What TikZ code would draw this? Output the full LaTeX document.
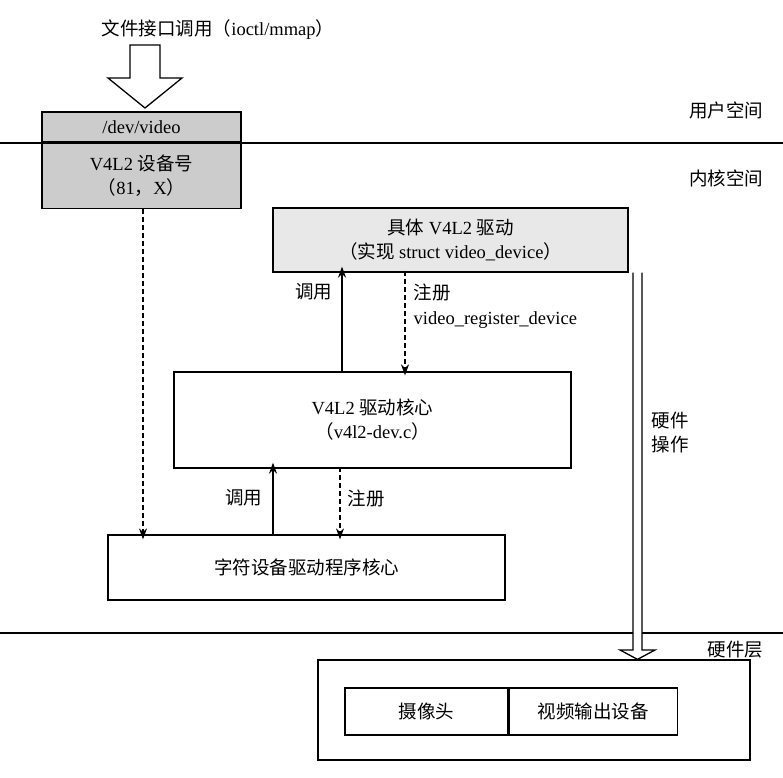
\documentclass[tikz,border=0pt]{standalone}
\usepackage{fontspec}
\setmainfont{Liberation Serif}
\newfontfamily\cjk{Noto Sans CJK SC}
\newcommand{\zh}[1]{{\cjk #1}}
\usetikzlibrary{positioning,arrows.meta}
\tikzset{
  box/.style={draw, line width=1.3pt, align=center, inner sep=0pt},
  call/.style={-{Stealth[length=11pt,width=8pt]}, line width=1.3pt},
  reg/.style={-{Stealth[length=11pt,width=8pt]}, line width=1.3pt, dash pattern=on 5pt off 3pt},
  lbl/.style={align=left, anchor=west, inner sep=1pt},
}
\begin{document}
\begin{tikzpicture}[x=1pt,y=-1pt,font=\fontsize{18.5}{22}\selectfont,line width=1.3pt]
  \useasboundingbox (0,0) rectangle (783,777);

  % layers
  \draw (0,143) -- (783,143);
  \draw (0,633) -- (783,633);
  \node[anchor=east] (user) at (767,110) {\zh{用户空间}};
  \node[anchor=east] (kernel) at (767,178) {\zh{内核空间}};
  \node[anchor=east] (hw) at (767,650) {\zh{硬件层}};

  % file interface
  \node (ifc) at (218,30) {\zh{文件接口调用（}ioctl/mmap\zh{）}};
  \draw[fill=white] (130,45) -- (160,45) -- (160,78) -- (182,78) -- (145,108)
    -- (108,78) -- (130,78) -- cycle;

  % device node
  \node[box, fill=gray!40, minimum width=199, minimum height=30] (dev) at (141.5,127) {/dev/video};
  \node[box, fill=gray!40, minimum width=199, minimum height=65, below=0pt of dev] (devno)
    {V4L2 \zh{设备号}\\[2pt]\zh{（}81\zh{，}X\zh{）}};

  % boxes
  \node[box, fill=gray!18, minimum width=355, minimum height=64] (drv) at (450.5,240)
    {\zh{具体} V4L2 \zh{驱动}\\[2pt]\zh{（实现} struct video\_device\zh{）}};
  \node[box, minimum width=397, minimum height=96] (core) at (372.5,420)
    {V4L2 \zh{驱动核心}\\[2pt]\zh{（}v4l2-dev.c\zh{）}};
  \node[box, minimum width=397, minimum height=65] (chr) at (306.5,567.5)
    {\zh{字符设备驱动程序核心}};

  % calls and registrations
  \draw[call] (core.north -| 342,0) -- ([yshift=6]drv.south -| 342,0);
  \node[anchor=east] (c1) at (336,292) {\zh{调用}};
  \draw[reg] ([yshift=2]drv.south -| 405,0) -- ([yshift=-4]core.north -| 405,0);
  \node[lbl] (r1) at (412,292) {\zh{注册}};
  \node[lbl] (r1b) at (412,320) {video\_register\_device};
  \draw[call] (chr.north -| 273,0) -- ([yshift=6]core.south -| 273,0);
  \node[anchor=east] (c2) at (266,498) {\zh{调用}};
  \draw[reg] ([yshift=2]core.south -| 340,0) -- ([yshift=-5]chr.north -| 340,0);
  \node[lbl] (r2) at (346,498) {\zh{注册}};
  \draw[reg] (devno.south -| 143,0) -- ([yshift=-5]chr.north -| 143,0);

  % hardware
  \node[box, minimum width=432, minimum height=100] (hwbox) at (534,710) {};
  \node[box, minimum width=163, minimum height=47] (cam) at (426.5,711.5) {\zh{摄像头}};
  \node[box, minimum width=168, minimum height=47, right=0pt of cam] (out) {\zh{视频输出设备}};
  \draw[fill=white] (drv.south -| 633,0) -- (633,650) -- (620,650) -- (hwbox.north -| 637.5,0)
    -- (655,650) -- (642,650) -- (drv.south -| 642,0);
  \node[align=left] (op) at (670,433) {\zh{硬件}\\[2pt]\zh{操作}};
\end{tikzpicture}
\end{document}
